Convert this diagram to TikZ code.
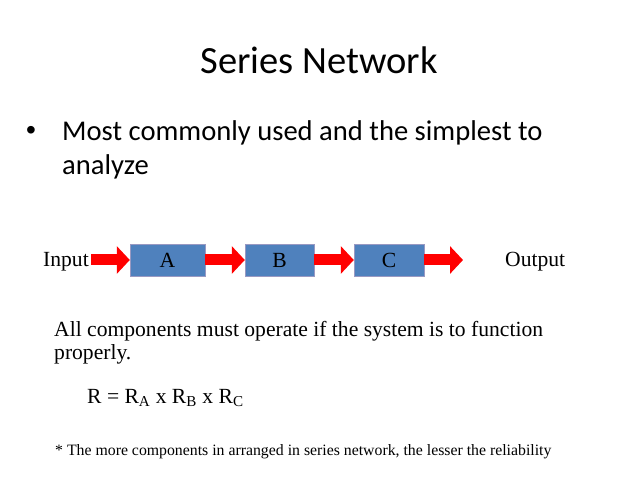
\documentclass[tikz,border=0pt]{standalone}
\usepackage{fontspec}
\setmainfont{Liberation Serif}
\newfontfamily\calfont{Carlito}
\newfontfamily\arialfont{Liberation Sans}
\usetikzlibrary{arrows.meta}
\begin{document}
\begin{tikzpicture}[x=1pt,y=-1pt,
  blk/.style={draw=blue!40!black!40,fill={rgb,255:red,79;green,129;blue,189},minimum width=#1,minimum height=32pt,inner sep=0pt,font=\fontsize{21.6}{24}\selectfont},
  lbl/.style={font=\fontsize{21.6}{24}\selectfont,inner sep=0pt},
  flow/.style={draw=red,line width=11pt,-{Triangle[length=13pt,width=27pt]},shorten >=0pt}]
\useasboundingbox (0,0) rectangle (638,478);
\node[font=\calfont\fontsize{38.5}{42}\selectfont] (title) at (319,60) {Series Network};
\node[font=\arialfont\fontsize{28}{30}\selectfont,anchor=west,inner sep=0pt] (bul) at (26,133) {•};
\node[font=\calfont\fontsize{28.6}{34}\selectfont,anchor=west,inner sep=0pt] (txt) at (62,133) {Most commonly used and the simplest to};
\node[font=\calfont\fontsize{28.6}{34}\selectfont,anchor=west,inner sep=0pt] (txt2) at (62,167) {analyze};
\node[lbl,anchor=west] (in) at (43,262) {Input};
\node[blk=75pt] (A) at (167.5,260) {A};
\node[blk=69pt] (B) at (279.5,260) {B};
\node[blk=70pt] (C) at (389,260) {C};
\node[lbl,anchor=west] (out) at (505,262) {Output};
\coordinate (s0) at (91,260);
\coordinate (e0) at (463,260);
\draw[flow] (s0) -- (A.west);
\draw[flow] (A.east) -- (B.west);
\draw[flow] (B.east) -- (C.west);
\draw[flow] (C.east) -- (e0);
\node[lbl,anchor=west] (note) at (54,331) {All components must operate if the system is to function};
\node[lbl,anchor=west] (note2) at (54,354) {properly.};
\node[lbl,anchor=west] (eq) at (87,398) {R = R\textsubscript{A} x R\textsubscript{B} x R\textsubscript{C}};
\node[font=\fontsize{15.8}{18}\selectfont,anchor=west,inner sep=0pt] (foot) at (55,452) {* The more components in arranged in series network, the lesser the reliability};
\end{tikzpicture}
\end{document}
